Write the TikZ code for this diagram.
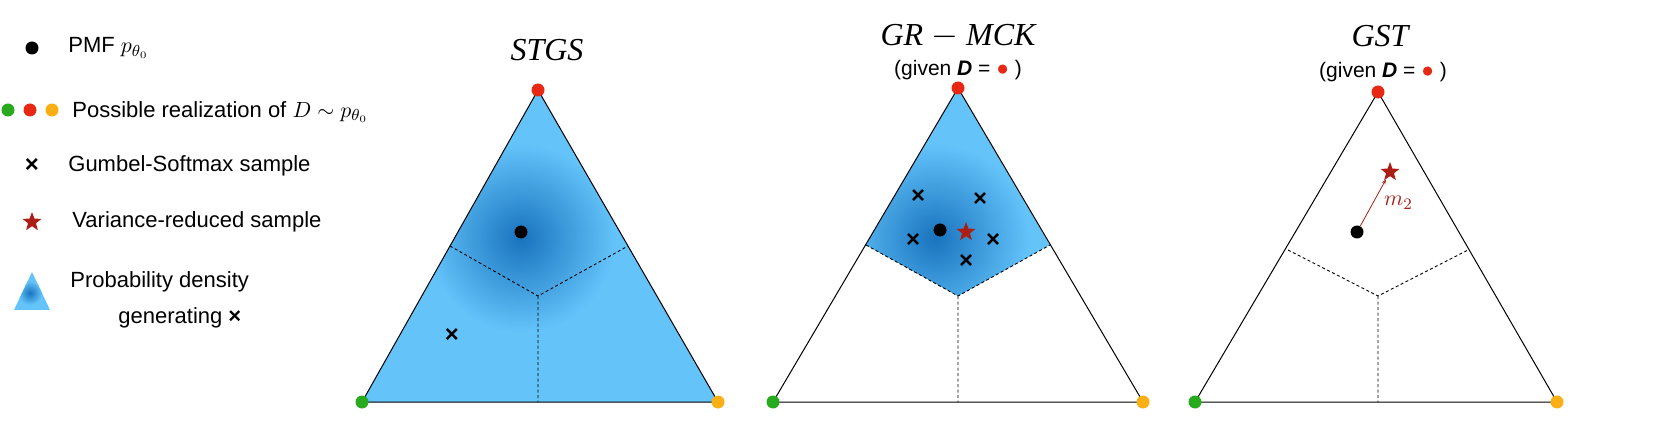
\documentclass[tikz,border=0pt]{standalone}
\usepackage{fontspec}
\setmainfont{Liberation Sans}
\newfontfamily\tms{Liberation Serif}
\usetikzlibrary{shapes.geometric,arrows.meta}
\definecolor{lb}{RGB}{100,196,250}
\definecolor{db}{RGB}{25,115,190}
\definecolor{cg}{RGB}{40,170,30}
\definecolor{cr}{RGB}{230,40,20}
\definecolor{co}{RGB}{250,175,20}
\definecolor{cs}{RGB}{170,30,20}
\tikzset{
  lbl/.style={font=\fontsize{11}{13}\selectfont, anchor=west, inner sep=0},
  ttl/.style={font=\tms\itshape\fontsize{16}{18}\selectfont, inner sep=0},
  giv/.style={font=\fontsize{10.5}{12.5}\selectfont, inner sep=0},
  vdot/.style={circle, fill=#1, inner sep=0, minimum size=6.5pt},
  pdot/.style={circle, fill=black, inner sep=0, minimum size=6.5pt},
  xmark/.style={font=\bfseries\fontsize{12}{12}\selectfont, inner sep=0},
  smark/.style={star, star points=5, star point ratio=2.4, fill=cs, inner sep=0, minimum size=10pt},
  edge/.style={line width=0.5pt},
  dsh/.style={dashed, line width=0.45pt, dash pattern=on 1.5pt off 1.25pt},
}
\begin{document}
\begin{tikzpicture}[x=0.5pt,y=-0.5pt]
\useasboundingbox (0,0) rectangle (1669,438);
% legend
\node[pdot] (l1) at (32,48) {};
\node[lbl] (t1) at (68,48) {PMF $p_{\theta_0}$};
\node[vdot=cg] (l2a) at (8,110) {};
\node[vdot=cr] (l2b) at (30,110) {};
\node[vdot=co] (l2c) at (52,110) {};
\node[lbl] (t2) at (72,112) {Possible realization of $D\sim p_{\theta_0}$};
\node[xmark] (l3) at (32,166) {×};
\node[lbl] (t3) at (68,166) {Gumbel-Softmax sample};
\node[smark] (l4) at (32,222) {};
\node[lbl] (t4) at (72,222) {Variance-reduced sample};
\begin{scope}
\clip (32,272) -- (50,310) -- (14,310) -- cycle;
\fill[lb] (14,272) rectangle (50,310);
\shade[inner color=db, outer color=lb] (30,293) circle (12);
\end{scope}
\node[coordinate] (l5) at (32,290) {};
\node[lbl] (t5) at (70,282) {Probability density};
\node[lbl] (t6) at (118,318) {generating \textbf{×}};

% triangle 1
\coordinate (aT) at (538,90); \coordinate (aL) at (362,402); \coordinate (aR) at (718,402);
\coordinate (aJ) at (538,296); \coordinate (aML) at (450,246); \coordinate (aMR) at (628,246); \coordinate (aB) at (538,402);
\begin{scope}
\clip (aT) -- (aL) -- (aR) -- cycle;
\fill[lb] (aT) -- (aL) -- (aR) -- cycle;
\shade[inner color=db, outer color=lb] (521,238) circle (95);
\end{scope}
\draw[edge] (aT) -- (aL) -- (aR) -- cycle;
\draw[dsh] (aML) -- (aJ) -- (aMR) (aJ) -- (aB);
\node[pdot] (a1) at (521,232) {};
\node[xmark] (a2) at (452,336) {×};
\node[ttl] (at) at (547,50) {STGS};
\node[vdot=cr] (av1) at (aT) {}; \node[vdot=cg] (av2) at (aL) {}; \node[vdot=co] (av3) at (aR) {};

% triangle 2
\coordinate (bT) at (958,88); \coordinate (bL) at (773,402); \coordinate (bR) at (1143,402);
\coordinate (bJ) at (958,296); \coordinate (bML) at (866,245); \coordinate (bMR) at (1050,245); \coordinate (bB) at (958,402);
\begin{scope}
\clip (bT) -- (bML) -- (bJ) -- (bMR) -- cycle;
\fill[lb] (bT) -- (bML) -- (bJ) -- (bMR) -- cycle;
\shade[inner color=db, outer color=lb] (935,238) circle (95);
\end{scope}
\draw[edge] (bT) -- (bL) -- (bR) -- cycle;
\draw[dsh] (bML) -- (bJ) -- (bMR) (bJ) -- (bB);
\node[pdot] (b1) at (940,230) {};
\node[smark] (b2) at (966,232) {};
\foreach \n/\p in {x1/{(918,197)}, x2/{(980,200)}, x3/{(913,241)}, x4/{(993,241)}, x5/{(966,262)}}
  \node[xmark] (b\n) at \p {×};
\node[ttl] (bt) at (958,36) {GR $-$ MCK};
\node[giv] (bg) at (958,70) {(given \textbf{\textit{D}} = \textcolor{cr}{●} )};
\node[vdot=cr] (bv1) at (bT) {}; \node[vdot=cg] (bv2) at (bL) {}; \node[vdot=co] (bv3) at (bR) {};

% triangle 3
\coordinate (cT) at (1378,92); \coordinate (cL) at (1195,402); \coordinate (cR) at (1557,402);
\coordinate (cJ) at (1378,296); \coordinate (cML) at (1288,250); \coordinate (cMR) at (1468,250); \coordinate (cB) at (1378,402);
\draw[edge] (cT) -- (cL) -- (cR) -- cycle;
\draw[dsh] (cML) -- (cJ) -- (cMR) (cJ) -- (cB);
\node[pdot] (c1) at (1357,232) {};
\node[smark] (c2) at (1390,172) {};
\draw[cs, line width=0.4pt, -{Stealth[length=2.5pt]}] (c1) -- (c2) node[midway, right=2pt, font=\tms\fontsize{11}{12}\selectfont, text=cs] (cm) {$m_2$};
\node[ttl] (ct) at (1380,36) {GST};
\node[giv] (cg) at (1383,72) {(given \textbf{\textit{D}} = \textcolor{cr}{●} )};
\node[vdot=cr] (cv1) at (cT) {}; \node[vdot=cg] (cv2) at (cL) {}; \node[vdot=co] (cv3) at (cR) {};
\end{tikzpicture}
\end{document}
